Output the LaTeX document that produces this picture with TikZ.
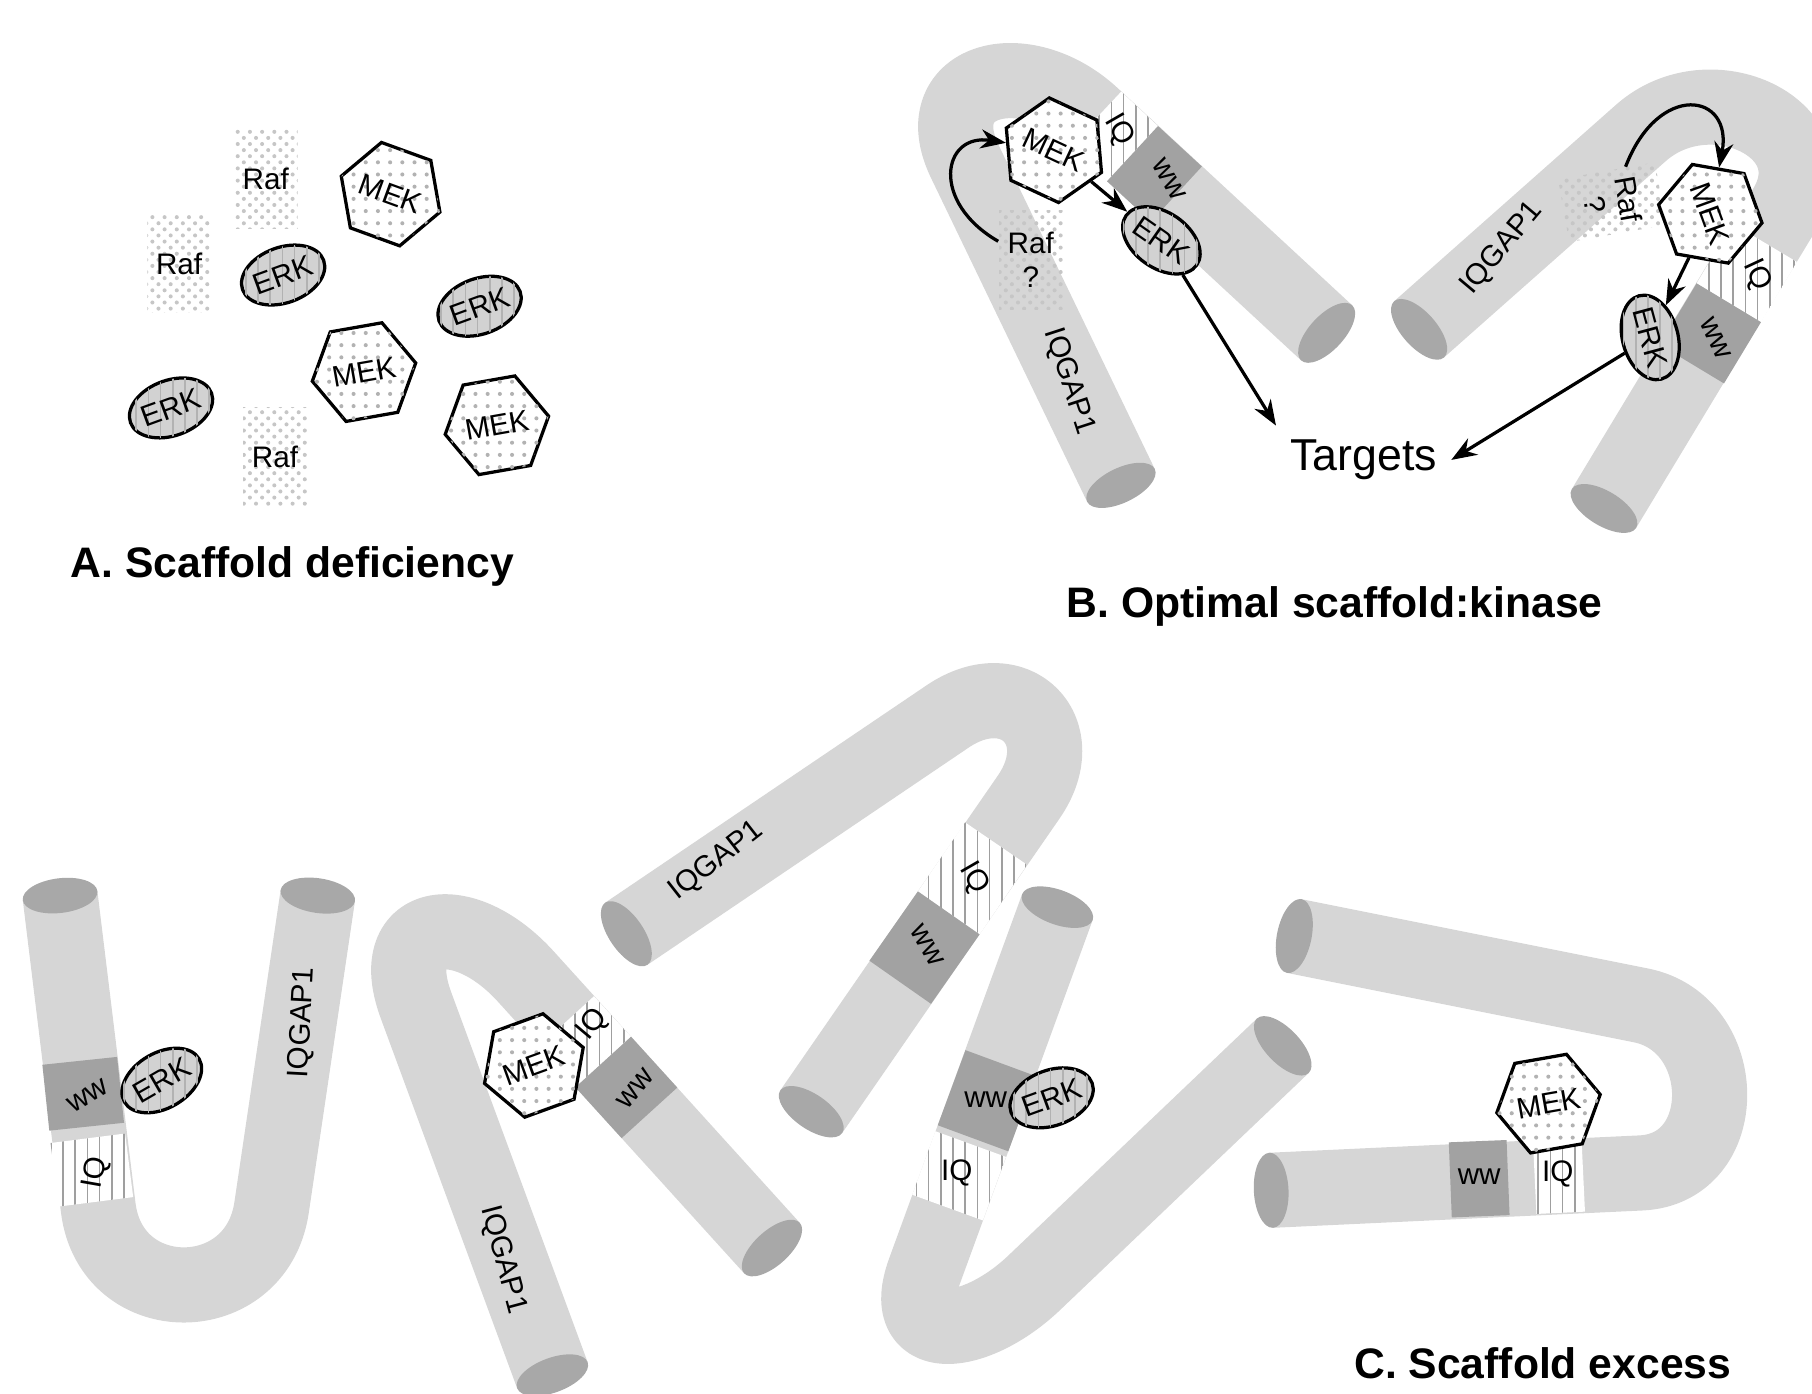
\documentclass[tikz,border=0pt]{standalone}
\usepackage{fontspec}
\setmainfont{Liberation Sans}
\usetikzlibrary{shapes.geometric,patterns,calc,arrows.meta}
\definecolor{tubec}{HTML}{D6D6D6}
\definecolor{capc}{HTML}{A8A8A8}
\definecolor{wwc}{HTML}{A2A2A2}
\newcommand{\lbl}{\fontsize{7.3}{8.3}\selectfont}
\tikzset{
  tube/.style={draw=tubec,line width=0.65cm,line cap=butt,line join=round},
  mek/.style={regular polygon,regular polygon sides=6,draw,thick,minimum size=0.78cm,inner sep=0pt,
    fill=white,postaction={pattern=dots,pattern color=gray!60},font=\lbl},
  erk/.style={ellipse,draw,thick,minimum width=0.74cm,minimum height=0.48cm,inner sep=0pt,
    fill=gray!35,postaction={pattern=vertical lines,pattern color=gray!60},font=\lbl},
  raf/.style={rectangle,minimum width=0.55cm,minimum height=0.85cm,inner sep=1pt,align=center,
    pattern=crosshatch dots,pattern color=gray!45,font=\lbl},
  txt/.style={font=\lbl,inner sep=0pt},
  title/.style={font=\fontsize{10.5}{12}\selectfont\bfseries},
  arr/.style={-{Stealth[length=2.2mm]},thick},
  iq/.style={fill=white,postaction={pattern=vertical lines,pattern color=gray!75}},
  wwb/.style={fill=wwc}
}
% bent tube: legs #1-#2 and #3-#4, turn of strength #5
\newcommand{\tubepath}[5]{\draw[tube] (#1) -- (#2) .. controls ($(#2)!-#5!(#1)$) and ($(#3)!-#5!(#4)$) .. (#3) -- (#4);
  \tcap{#1}{#2}\tcap{#4}{#3}}
% end cap of a tube at #1, leg coming from #2
\newcommand{\tcap}[2]{\path let \p1=($(#1)-(#2)$), \n1={atan2(\y1,\x1)} in
  \pgfextra{\fill[capc] (#1) ellipse[x radius=0.15cm,y radius=0.325cm,rotate=\n1];};}
% band on tube between points #1 and #2
\newcommand{\band}[3]{\fill[#3] ($#1!0.325cm!90:#2$) -- ($#2!0.325cm!-90:#1$)
  -- ($#2!0.325cm!90:#1$) -- ($#1!0.325cm!-90:#2$) -- cycle;}
\begin{document}
\begin{tikzpicture}[x=0.01cm,y=-0.01cm]
\useasboundingbox (0,0) rectangle (1568,1206);
\clip (0,0) rectangle (1568,1206);

% ---------- A ----------
\node[raf] (ra1) at (230,155) {Raf};
\node[raf] (ra2) at (155,228) {Raf};
\node[raf] (ra3) at (238,395) {Raf};
\node[mek,rotate=-20] (ma1) at (338,168) {MEK};
\node[mek,rotate=10] (ma2) at (315,322) {MEK};
\node[mek,rotate=10] (ma3) at (430,368) {MEK};
\node[erk,rotate=20] (ea1) at (245,238) {ERK};
\node[erk,rotate=20] (ea2) at (415,265) {ERK};
\node[erk,rotate=20] (ea3) at (148,353) {ERK};
\node[title] (ta) at (253,490) {A. Scaffold deficiency};

% ---------- B ----------
\tubepath{970,420}{835,140}{945,100}{1148,288}{0.8cm}
\band{(948,103)}{(980,133)}{iq}
\band{(980,133)}{(1018,168)}{wwb}
\node[txt,rotate=-60] (iqb1) at (968,113) {IQ};
\node[txt,rotate=-60] (wwb1) at (1012,155) {ww};
\node[txt,rotate=-72] (gb1) at (925,330) {IQGAP1};
\node[raf] (rb1) at (892,225) {Raf\\?};
\node[mek,rotate=-25] (mb1) at (912,130) {MEK};
\node[erk,rotate=-35] (eb1) at (1005,208) {ERK};

\tubepath{1228,285}{1420,115}{1545,180}{1388,440}{0.8cm}
\band{(1527,210)}{(1496,262)}{iq}
\band{(1496,262)}{(1464,315)}{wwb}
\node[txt,rotate=-65] (iqb2) at (1520,238) {IQ};
\node[txt,rotate=-65] (wwb2) at (1485,293) {ww};
\node[txt,rotate=50] (gb2) at (1300,215) {IQGAP1};
\node[raf,rotate=-80] (rb2) at (1395,175) {Raf\\?};
\node[mek,rotate=-70] (mb2) at (1480,185) {MEK};
\node[erk,rotate=-75] (eb2) at (1428,292) {ERK};

\node[font=\fontsize{11}{13}\selectfont] (tg) at (1180,398) {Targets};
\node[title] (tb) at (1155,525) {B. Optimal scaffold:kinase};

\draw[arr] (rb1) .. controls (805,175) and (815,115) .. (mb1);
\draw[arr] (mb1) -- (eb1);
\draw[arr] (eb1) -- (tg.north west);
\draw[arr] (rb2) .. controls (1435,70) and (1500,80) .. (mb2);
\draw[arr] (mb2) -- (eb2);
\draw[arr] (eb2) -- (tg.east);

% ---------- C ----------
\tubepath{52,775}{85,1045}{235,1045}{275,775}{0.9cm}
\band{(69,918)}{(75,975)}{wwb}
\band{(76,985)}{(83,1040)}{iq}
\node[txt,rotate=30] (wwc1) at (76,948) {ww};
\node[txt,rotate=80] (iqc1) at (83,1015) {IQ};
\node[erk,rotate=30] (ec1) at (140,935) {ERK};
\node[txt,rotate=87] (gc1) at (262,885) {IQGAP1};

\tubepath{478,1190}{360,870}{455,845}{668,1080}{0.8cm}
\band{(490,884)}{(522,919)}{iq}
\band{(522,919)}{(562,963)}{wwb}
\node[txt,rotate=50] (iqc2) at (513,887) {IQ};
\node[txt,rotate=50] (wwc2) at (550,942) {ww};
\node[mek,rotate=20] (mc2) at (462,922) {MEK};
\node[txt,rotate=-75] (gc2) at (435,1090) {IQGAP1};

\tubepath{542,808}{820,620}{890,690}{702,962}{0.7cm}
\band{(862,730)}{(821,790)}{iq}
\band{(821,790)}{(779,850)}{wwb}
\node[txt,rotate=-60] (iqc3) at (843,760) {IQ};
\node[txt,rotate=-60] (wwc3) at (802,818) {ww};
\node[txt,rotate=38] (gc3) at (620,745) {IQGAP1};

\tubepath{915,785}{800,1100}{895,1110}{1110,905}{0.7cm}
\band{(866,920)}{(842,985)}{wwb}
\band{(840,990)}{(820,1045)}{iq}
\node[txt] (wwc4) at (853,952) {ww};
\node[txt] (iqc4) at (828,1015) {IQ};
\node[erk,rotate=20] (ec4) at (910,950) {ERK};

\tubepath{1120,810}{1420,870}{1420,1015}{1100,1030}{0.8cm}
\band{(1305,1019)}{(1255,1021)}{wwb}
\band{(1370,1016)}{(1328,1018)}{iq}
\node[txt] (wwc5) at (1280,1018) {ww};
\node[txt] (iqc5) at (1348,1016) {IQ};
\node[mek,rotate=10] (mc5) at (1340,955) {MEK};

\node[title] (tc) at (1335,1180) {C. Scaffold excess};
\end{tikzpicture}
\end{document}
